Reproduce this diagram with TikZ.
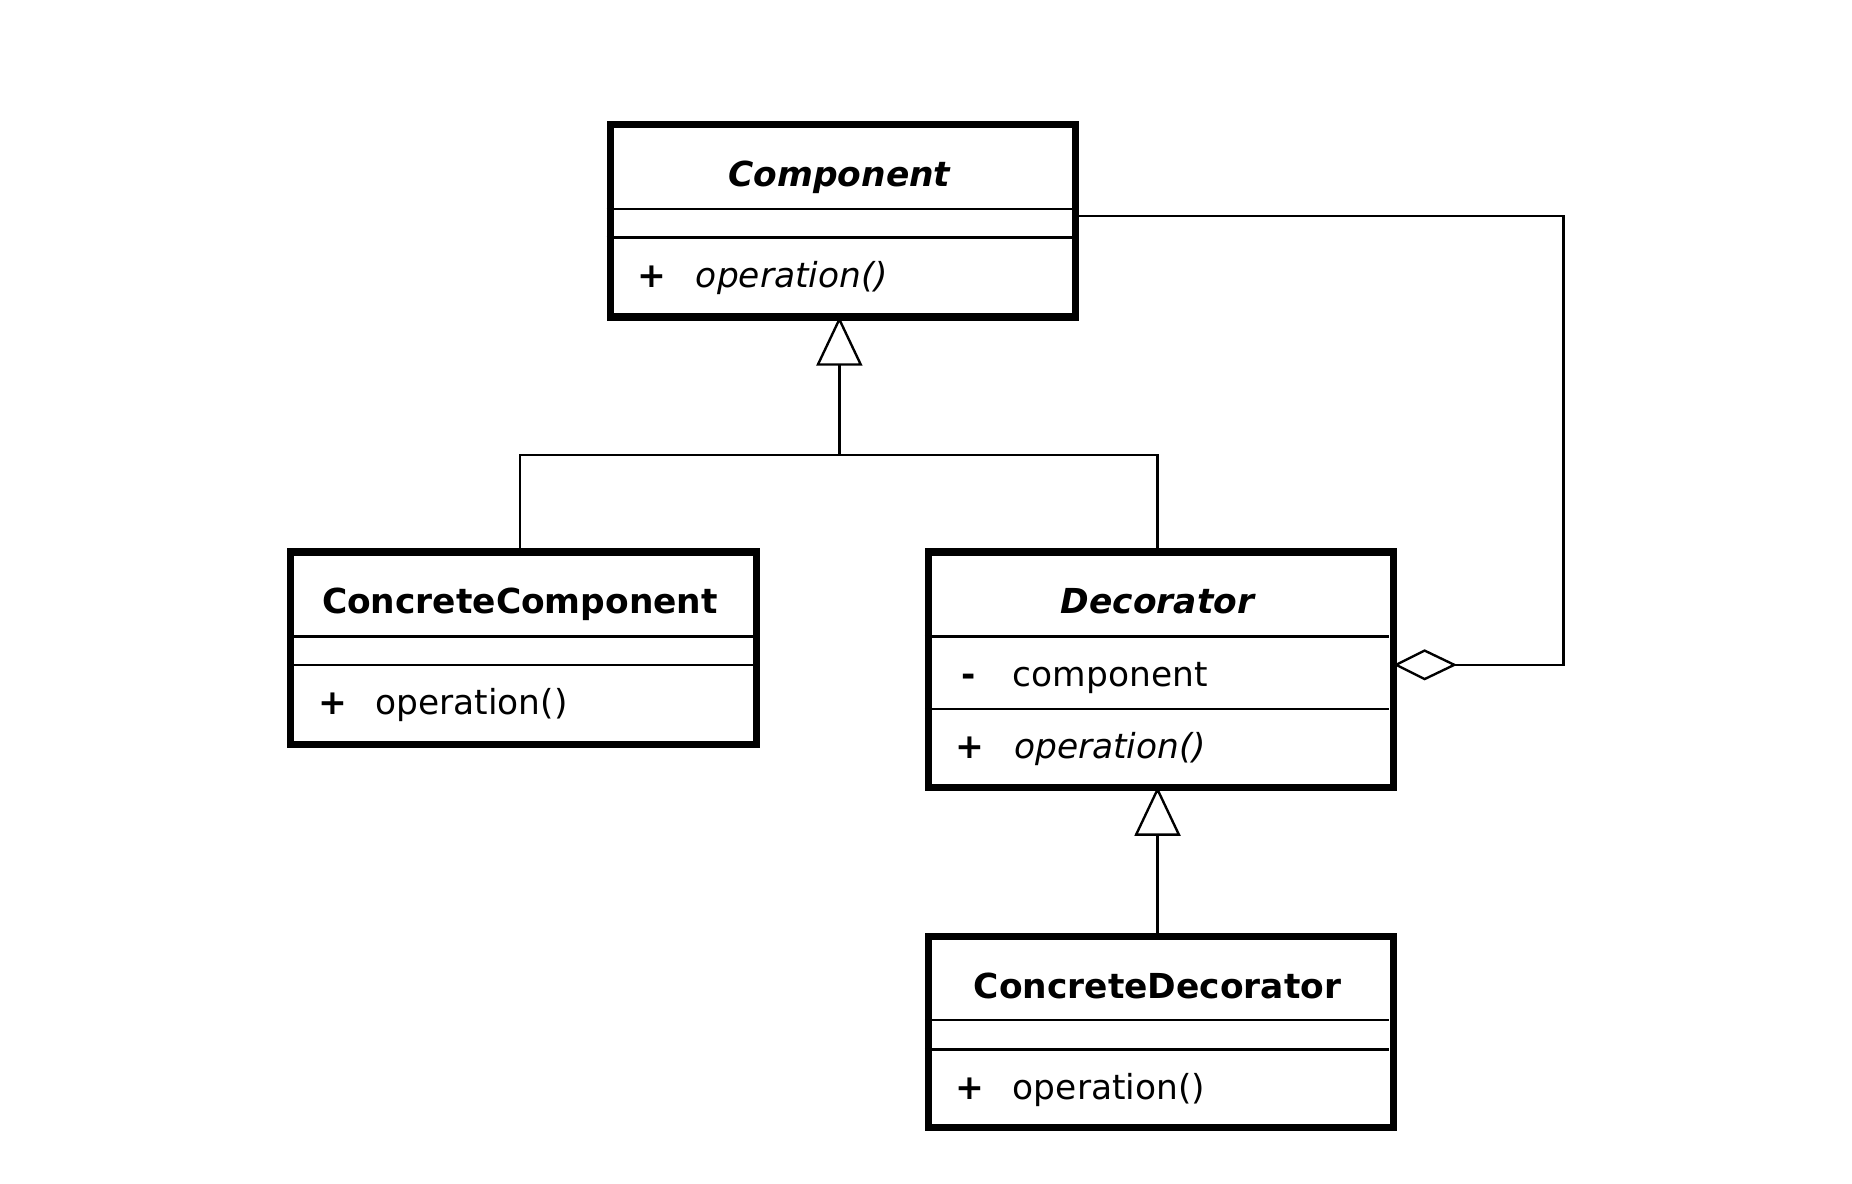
\documentclass[tikz,border=0pt]{standalone}
\usepackage{fontspec}
\setmainfont{DejaVu Sans}
\begin{document}
\begin{tikzpicture}[x=1pt,y=-1pt,
  box/.style={draw,line width=6pt,minimum width=392pt,anchor=north west,inner sep=0pt},
  sep/.style={line width=2pt},
  conn/.style={line width=2pt},
  t/.style={font=\fontsize{29}{34}\selectfont,anchor=base west,inner sep=0pt},
  title/.style={font=\fontsize{29}{34}\selectfont\bfseries,anchor=base,inner sep=0pt}]
\useasboundingbox (0,0) rectangle (1560,997);
% Component
\node[box,minimum height=162pt] (comp) at (511,102) {};
\draw[sep] (511,176) -- (903,176) (511,200) -- (903,200);
\node[title] (compT) at (707,157) {\itshape Component};
\node[t] (compP) at (537,242) {\bfseries +};
\node[t] (compO) at (586,242) {\itshape operation()};
% ConcreteComponent
\node[box,minimum height=162pt] (cc) at (242,462) {};
\draw[sep] (242,536) -- (634,536) (242,560) -- (634,560);
\node[title] (ccT) at (438,517) {ConcreteComponent};
\node[t] (ccP) at (268,602) {\bfseries +};
\node[t] (ccO) at (316,602) {operation()};
% Decorator
\node[box,minimum height=198pt] (dec) at (779,462) {};
\draw[sep] (779,536) -- (1170,536) (779,597) -- (1170,597);
\node[title] (decT) at (975,517) {\itshape Decorator};
\node[t] (decM) at (810,578) {\bfseries -};
\node[t] (decA) at (853,578) {component};
\node[t] (decP) at (805,639) {\bfseries +};
\node[t] (decO) at (854,639) {\itshape operation()};
% ConcreteDecorator
\node[box,minimum height=161pt] (cd) at (779,786) {};
\draw[sep] (779,859) -- (1170,859) (779,884) -- (1170,884);
\node[title] (cdT) at (975,841) {ConcreteDecorator};
\node[t] (cdP) at (805,926) {\bfseries +};
\node[t] (cdO) at (853,926) {operation()};
% inheritance 1
\coordinate (tri1) at (707,307);
\draw[conn,fill=white] (707,269) -- (725,307) -- (689,307) -- cycle;
\draw[conn] (tri1) -- (707,383);
\draw[conn] (438,462) -- (438,383) -- (975,383) -- (975,462);
% inheritance 2
\coordinate (tri2) at (975,703);
\draw[conn,fill=white] (975,665) -- (993,703) -- (957,703) -- cycle;
\draw[conn] (tri2) -- (975,786);
% aggregation
\coordinate (dia) at (1225,560);
\draw[conn,fill=white] (1176,560) -- (1200,548) -- (1225,560) -- (1200,572) -- cycle;
\draw[conn] (904,182) -- (1317,182) -- (1317,560) -- (dia);
\end{tikzpicture}
\end{document}
